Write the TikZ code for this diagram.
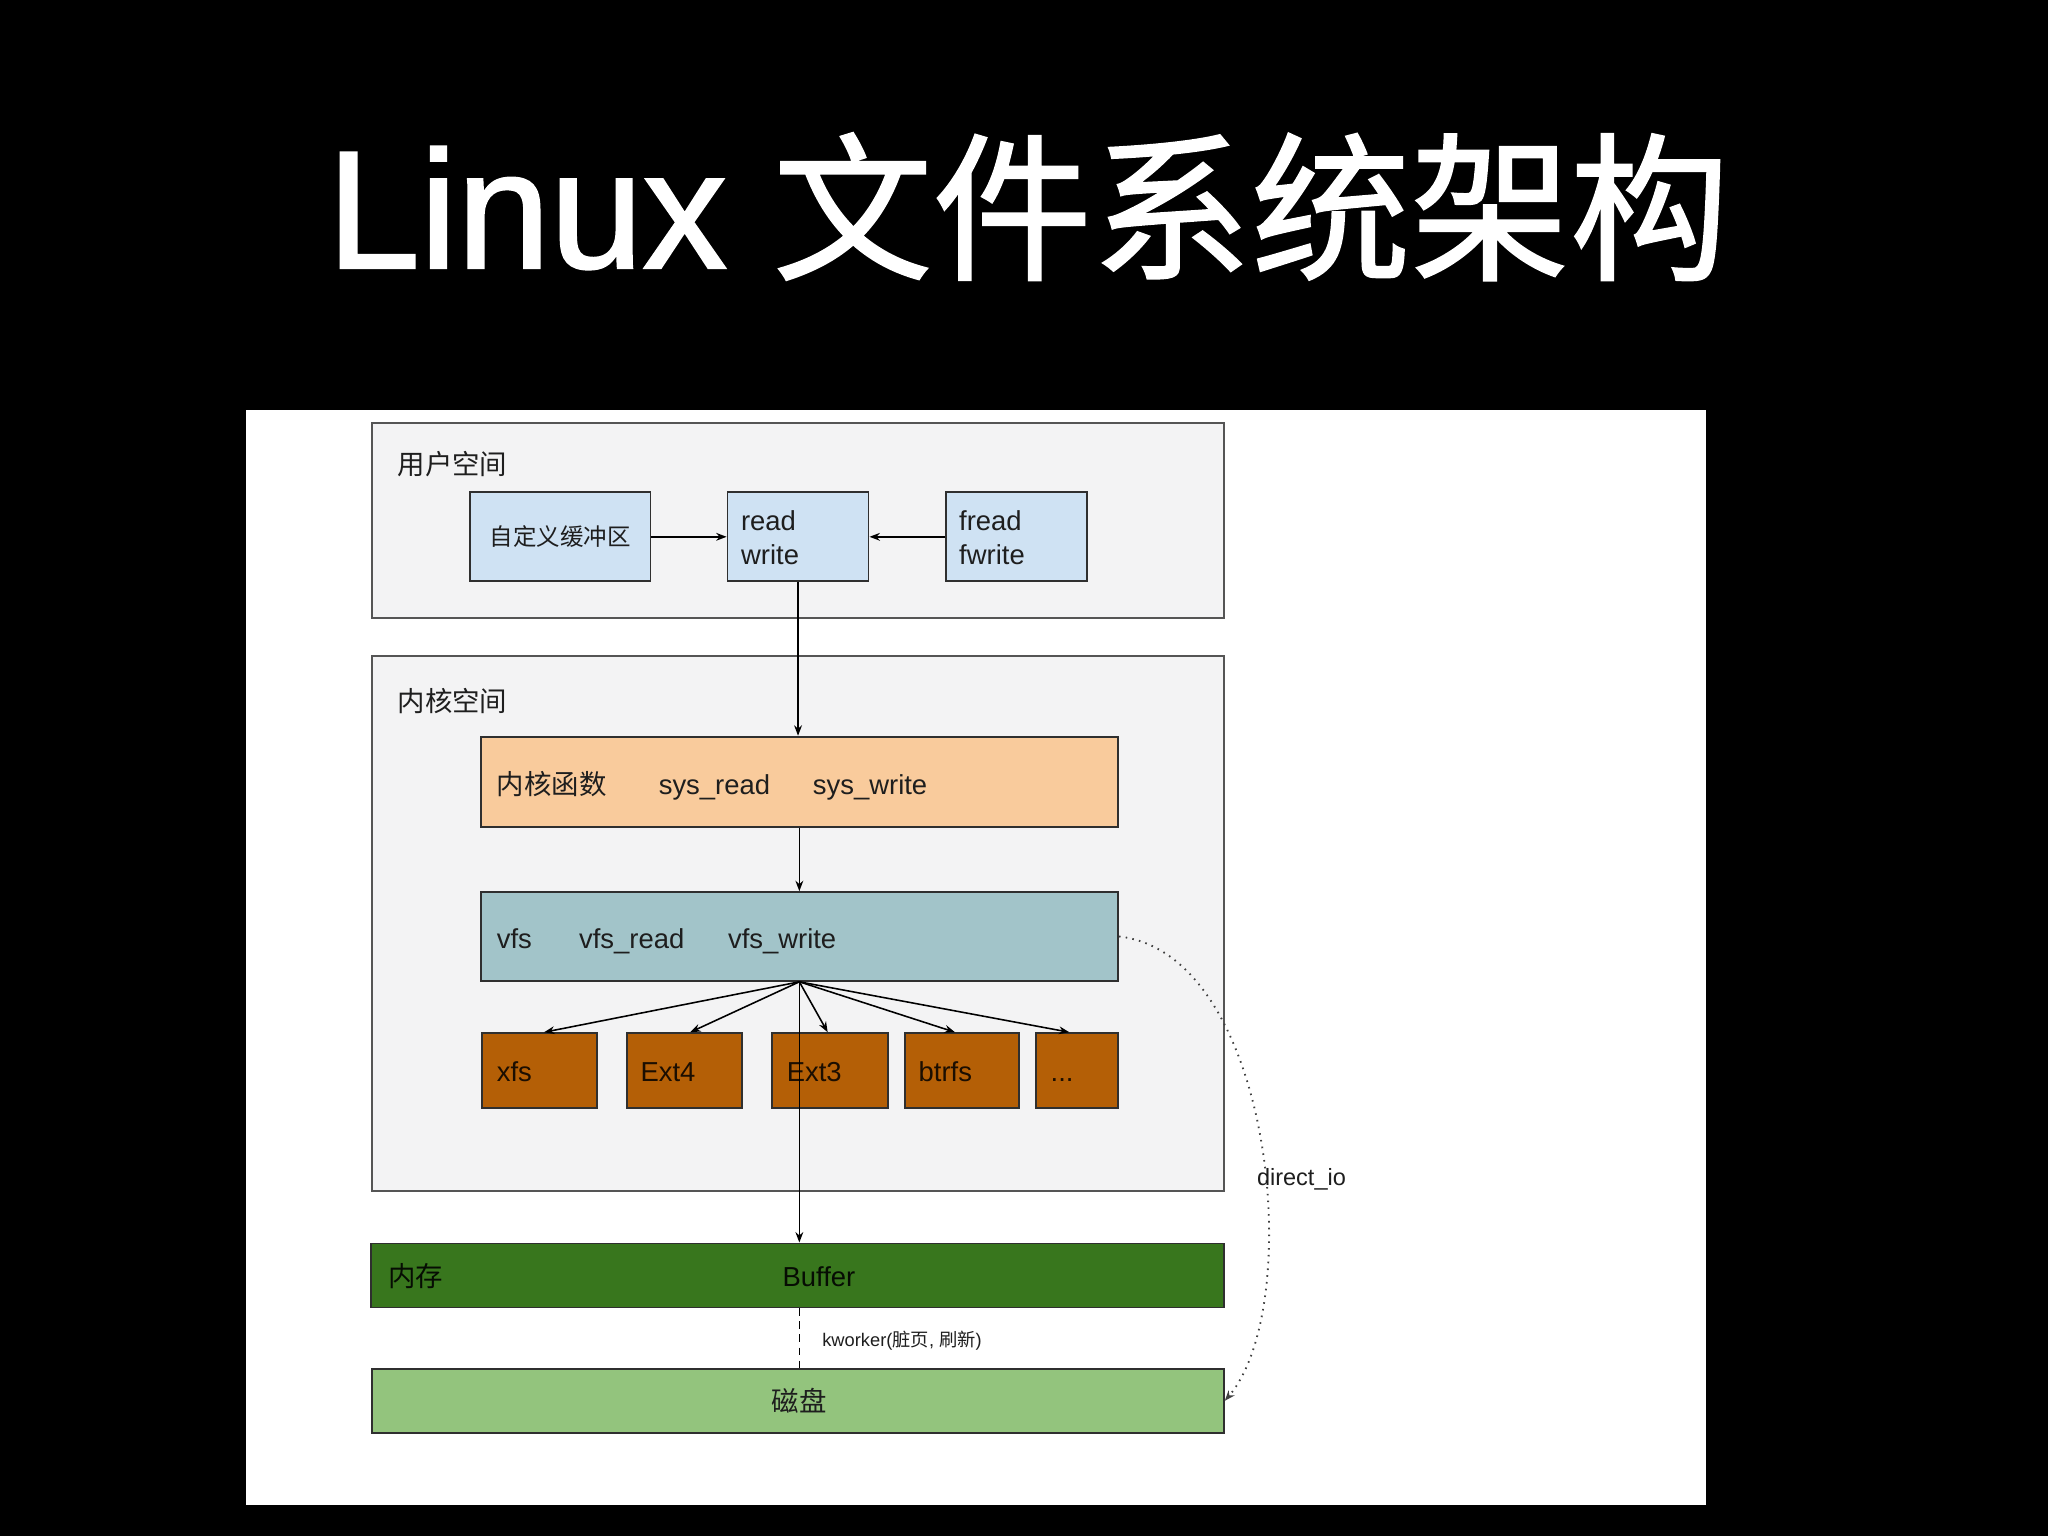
\documentclass[tikz,border=0pt]{standalone}
\usepackage{fontspec}
\setmainfont{Liberation Sans}
\newfontfamily\cjk{Noto Sans CJK SC}
\newfontfamily\titlelat[FakeBold=1.5]{Liberation Sans}
\newfontfamily\titlecjk[FakeBold=1.2]{Noto Sans CJK SC}
\usetikzlibrary{arrows.meta,fit,calc}
\definecolor{outerfill}{HTML}{F3F3F4}
\definecolor{outerline}{HTML}{555555}
\definecolor{boxline}{HTML}{2F2F2F}
\definecolor{lblue}{HTML}{CFE2F3}
\definecolor{peach}{HTML}{F9CB9C}
\definecolor{teal}{HTML}{A2C4C9}
\definecolor{rust}{HTML}{B45F06}
\definecolor{dkgreen}{HTML}{38761D}
\definecolor{ltgreen}{HTML}{93C47D}
\definecolor{txt}{HTML}{1E1E1E}
\begin{document}
\begin{tikzpicture}[x=0.5pt,y=-0.5pt,
  outer/.style={draw=outerline,fill=outerfill,line width=0.8pt,inner sep=0pt},
  box/.style={draw=boxline,line width=0.7pt,inner sep=0pt},
  lbl/.style={inner sep=0pt,text=txt,font=\fontsize{10.5}{13}\selectfont},
  small/.style={inner sep=0pt,text=txt,font=\fontsize{7}{8}\selectfont},
  arr/.style={-{Stealth[length=4pt,width=3pt]},line width=0.6pt,draw=black},
]
\useasboundingbox (0,0) rectangle (1568,1176);
\fill[black] (0,0) rectangle (1568,1176);
\fill[white] (188,314) rectangle (1306,1152);

% title
\node[anchor=base west,inner sep=0pt,text=white,font=\titlelat\fontsize{64}{70}\selectfont]
  (title) at (250,205) {Linux {\titlecjk\fontsize{61}{70}\selectfont 文件系统架构}};

% user space
\node[outer,fit={(285,324) (937,473)}] (user) {};
\node[lbl,anchor=base west] (userlbl) at (304,363) {\cjk 用户空间};
\node[box,fill=lblue,fit={(360,377) (498,445)}] (cbuf) {};
\node[lbl,anchor=base,font=\fontsize{9}{11}\selectfont] (cbuftxt) at (429,418) {\cjk 自定义缓冲区};
\node[box,fill=lblue,fit={(557,377) (665,445)}] (rw) {};
\node[lbl,anchor=west,align=left] (rwtxt) at (567,412) {read\\write};
\node[box,fill=lblue,fit={(724,377) (832,445)}] (frw) {};
\node[lbl,anchor=west,align=left] (frwtxt) at (734,412) {fread\\fwrite};

% kernel space
\node[outer,fit={(285,502) (937,912)}] (kernel) {};
\node[lbl,anchor=base west] (kernlbl) at (304,545) {\cjk 内核空间};
\node[box,fill=peach,fit={(368,564) (856,633)}] (kfunc) {};
\node[lbl,anchor=base west] (kf1) at (380,608) {\cjk 内核函数};
\node[lbl,anchor=base west] (kf2) at (504,608) {sys\_read};
\node[lbl,anchor=base west] (kf3) at (622,608) {sys\_write};
\node[box,fill=teal,fit={(368,683) (856,751)}] (vfs) {};
\node[lbl,anchor=base west] (v1) at (380,726) {vfs};
\node[lbl,anchor=base west] (v2) at (443,726) {vfs\_read};
\node[lbl,anchor=base west] (v3) at (557,726) {vfs\_write};

\node[box,fill=rust,fit={(369,791) (457,848)}] (xfs) {};
\node[box,fill=rust,fit={(480,791) (568,848)}] (ext4) {};
\node[box,fill=rust,fit={(591,791) (680,848)}] (ext3) {};
\node[box,fill=rust,fit={(693,791) (780,848)}] (btrfs) {};
\node[box,fill=rust,fit={(793,791) (856,848)}] (more) {};
\node[lbl,anchor=base west,text=black!85!rust] (t1) at (380,828) {xfs};
\node[lbl,anchor=base west,text=black!85!rust] (t2) at (490,828) {Ext4};
\node[lbl,anchor=base west,text=black!85!rust] (t3) at (602,828) {Ext3};
\node[lbl,anchor=base west,text=black!85!rust] (t4) at (703,828) {btrfs};
\node[lbl,anchor=base west,text=black!85!rust] (t5) at (804,828) {...};

% memory and disk
\node[box,fill=dkgreen,fit={(284,952) (937,1001)}] (mem) {};
\node[lbl,anchor=base west,text=black!90!dkgreen] (memlbl) at (297,985) {\cjk 内存};
\node[lbl,anchor=base,text=black!90!dkgreen] (buf) at (627,985) {Buffer};
\node[box,fill=ltgreen,fit={(285,1048) (937,1097)}] (disk) {};
\node[lbl,anchor=base] (disklbl) at (612,1081) {\cjk 磁盘};

% connectors
\draw[arr] (cbuf.east) -- (rw.west);
\draw[arr] (frw.west) -- (rw.east);
\draw[arr] (rw.south) -- (rw.south |- kfunc.north);
\draw[arr] (kfunc.south) -- (vfs.north);
\draw[arr] (vfs.south) -- ($(xfs.north west)!0.54!(xfs.north east)$);
\draw[arr] (vfs.south) -- ($(ext4.north west)!0.55!(ext4.north east)$);
\draw[arr] (vfs.south) -- ($(ext3.north west)!0.48!(ext3.north east)$);
\draw[arr] (vfs.south) -- ($(btrfs.north west)!0.44!(btrfs.north east)$);
\draw[arr] (vfs.south) -- ($(more.north west)!0.41!(more.north east)$);
\draw[arr] (vfs.south) -- (vfs.south |- mem.north);
\draw[line width=0.6pt,dash pattern=on 3pt off 2pt] (vfs.south |- mem.south) -- (vfs.south |- disk.north)
  node[small,pos=0.55,anchor=west,xshift=8.5pt] (kw) {kworker({\cjk 脏页}, {\cjk 刷新})};
\draw[arr,draw=black!75,dotted,line width=0.7pt] (vfs.east) .. controls (975,730) and (1000,1000) .. (disk.east);
\node[inner sep=0pt,text=txt,font=\fontsize{9}{11}\selectfont,anchor=base west] (dio) at (962,908) {direct\_io};
\end{tikzpicture}
\end{document}
